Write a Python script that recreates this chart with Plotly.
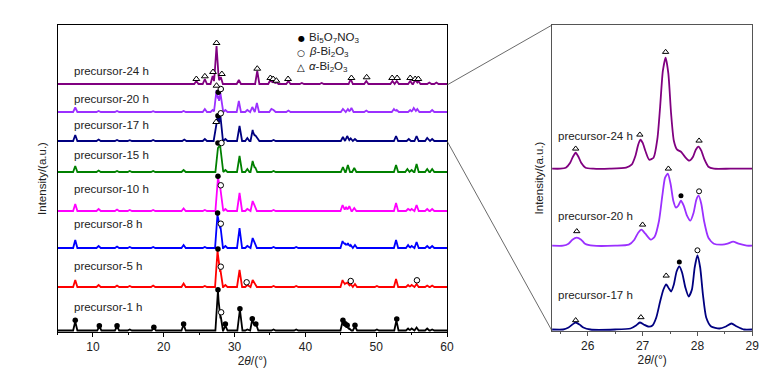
import plotly.graph_objects as go

# ---------------- main panel data ----------------
series_names = ["precursor-1 h", "precursor-5 h", "precursor-8 h", "precursor-10 h",
                "precursor-15 h", "precursor-17 h", "precursor-20 h", "precursor-24 h"]
series_colors = ["#000000", "#FF0000", "#0000FF", "#FF00FF",
                 "#008000", "#000080", "#9B30FF", "#800080"]
baselines = [1.5, 45, 84, 121, 160, 191, 220, 248]

peaks_1h = [(7.5, 9), (10.9, 4), (13.4, 4), (15.2, 1), (18.6, 3), (22.8, 6), (27.65, 40), (28.05, 14),
            (28.7, 5), (30.75, 21), (31.8, 1), (32.5, 11), (32.8, 7), (33.05, 6), (35.5, 1), (38.7, 1),
            (45.25, 9), (45.55, 5), (45.85, 4), (46.2, 2), (47.0, 4), (50.1, 1), (52.85, 10), (54.5, 2),
            (55.0, 2), (55.7, 3), (57.2, 2), (57.9, 1)]
peaks_5h = [(7.5, 7), (10.8, 2), (13.4, 1.5), (15.2, 1), (18.5, 1.5), (22.8, 3.5), (25.8, 1), (27.6, 37),
            (28.0, 17), (28.7, 2), (30.7, 17), (31.8, 2), (32.55, 7), (32.85, 4), (35.5, 1), (38.7, 1),
            (45.25, 7), (45.6, 4), (45.95, 5), (46.4, 3), (47.0, 3), (50.1, 1), (52.8, 8), (54.5, 2),
            (55.0, 2), (55.7, 3), (57.2, 1.5), (57.9, 1.5)]
peaks_8h = [(7.5, 8), (10.8, 2), (13.4, 1.5), (15.2, 1), (18.5, 1), (22.8, 3), (25.8, 1), (27.6, 35),
            (28.0, 22), (28.7, 2), (30.7, 20), (31.8, 2), (32.55, 10), (32.85, 5), (35.5, 1), (38.7, 1),
            (45.25, 7), (45.6, 5), (46.0, 5), (46.4, 3), (47.0, 3), (52.8, 8), (54.5, 3), (55.0, 2),
            (55.7, 6), (57.2, 2), (57.9, 2)]
peaks_10h = [(7.5, 7), (10.8, 2), (13.4, 1.5), (15.2, 1), (18.5, 1), (22.8, 2.5), (25.8, 1), (27.65, 33),
             (28.0, 22), (28.7, 2), (30.7, 18), (31.8, 2), (32.55, 10), (32.85, 5), (35.5, 1),
             (45.25, 6), (45.75, 4), (46.2, 5), (46.9, 3), (52.8, 8), (54.5, 2), (55.0, 2), (55.7, 6),
             (57.2, 2), (57.9, 2)]
peaks_15h = [(7.5, 6), (10.8, 1.5), (13.4, 1), (15.2, 1), (18.5, 1), (22.8, 2), (27.65, 24), (27.95, 27),
             (28.7, 2), (30.7, 16), (31.8, 3), (32.55, 11), (32.9, 5), (35.5, 1), (45.3, 5), (46.0, 7),
             (46.9, 4), (52.8, 7), (54.4, 3), (55.0, 2), (55.7, 8), (57.2, 3), (57.9, 3)]
peaks_17h = [(7.5, 6), (10.8, 1.5), (13.4, 1), (15.2, 0.8), (18.5, 1), (22.9, 1.5), (25.8, 2), (27.4, 18),
             (27.65, 26), (28.0, 25), (28.7, 2), (30.7, 15), (31.8, 3), (32.55, 11), (32.9, 6), (33.2, 3),
             (35.5, 1), (45.3, 4), (45.9, 5), (46.4, 2.5), (47.0, 2), (52.8, 5), (54.6, 2), (55.7, 5),
             (57.2, 3), (57.9, 2)]
peaks_20h = [(7.5, 4.5), (10.8, 1), (13.4, 1), (18.5, 0.8), (22.8, 1), (25.8, 3), (26.9, 2), (27.45, 22),
             (27.7, 16), (28.0, 19), (28.7, 2), (30.6, 11), (31.8, 2), (32.5, 5), (33.15, 9), (35.2, 3),
             (35.5, 2), (37.6, 1.5), (45.3, 3), (46.0, 3), (46.5, 4), (48.6, 1.5), (52.5, 3), (52.9, 2),
             (54.8, 2), (55.3, 4), (55.8, 3), (57.9, 2)]
peaks_24h = [(24.6, 3), (25.8, 5), (26.9, 8), (27.45, 38), (27.7, 6), (28.05, 7), (30.6, 4), (33.2, 13),
             (35.05, 4), (35.45, 3), (35.9, 2), (37.6, 3), (39.5, 1), (42.3, 1), (46.4, 5), (48.6, 3),
             (52.3, 3), (52.9, 3), (54.8, 3), (55.5, 4), (55.95, 3), (57.5, 1.5), (58.5, 1.5)]
series_peaks = [peaks_1h, peaks_5h, peaks_8h, peaks_10h, peaks_15h, peaks_17h, peaks_20h, peaks_24h]

label_y = [25, 65.7, 108.3, 143, 177.3, 206.7, 233.3, 261]

# phase markers (main panel)
bi5_x = [7.5, 10.9, 13.4, 18.6, 22.8, 27.65, 28.7, 30.75, 32.5, 33.0, 45.3, 45.6, 45.9, 47.0, 52.9,
         27.65, 27.6, 27.65, 27.65, 27.65, 27.7]
bi5_y = [11.7, 6.3, 6.3, 4.7, 8, 42.3, 8, 23.3, 13.3, 8, 11.7, 8.3, 6.7, 6.7, 13,
         83, 119, 155.7, 189, 216.3, 239.7]
beta_x = [28.1, 28.05, 31.7, 46.4, 55.75, 28.05, 28.05, 28.15, 28.05, 28.05]
beta_y = [19.7, 65.3, 49.7, 51, 51.7, 108.3, 146.7, 189, 218.7, 243]
alpha_x = [27.4, 27.45, 24.6, 25.8, 26.95, 27.45, 28.2, 33.2, 35.05, 35.45, 35.9, 37.55, 46.5, 48.65,
           52.25, 52.95, 54.8, 55.5, 55.95]
alpha_y = [210, 246.3, 253, 255.7, 260, 289, 258, 263.3, 254, 253, 251.3, 253, 254, 254.7,
           254, 254, 254, 253, 253]

legend_texts = ["Bi<sub>5</sub>O<sub>7</sub>NO<sub>3</sub>",
                "<i>β</i>-Bi<sub>2</sub>O<sub>3</sub>",
                "<i>α</i>-Bi<sub>2</sub>O<sub>3</sub>"]
legend_glyphs = ["●", "○", "△"]

# ---------------- inset data ----------------
inset_names = ["precursor-17 h", "precursor-20 h", "precursor-24 h"]
inset_colors = ["#000080", "#9B30FF", "#800080"]
inset_base = [1.5, 85.3, 162.3]
inset_label_y = [36, 115, 195]

in17_x = [25.35, 25.55, 25.65, 25.72, 25.78, 25.85, 25.92, 26.05, 26.5, 26.78, 26.88, 26.95, 27.02, 27.1,
          27.18, 27.25, 27.32, 27.38, 27.43, 27.48, 27.52, 27.57, 27.62, 27.67, 27.72, 27.78, 27.84, 27.9,
          27.95, 28.0, 28.05, 28.1, 28.16, 28.25, 28.4, 28.52, 28.62, 28.72, 28.85, 29.0]
in17_y = [0, 0, 2, 5, 7, 5, 2, 0, 0, 1, 4, 7, 5, 3, 4, 12, 28, 40, 45, 41, 38, 45, 58, 63, 57, 42, 33, 40,
          62, 74, 62, 35, 12, 3, 1, 3, 6, 3, 0, 0]
in20_x = [25.35, 25.55, 25.65, 25.72, 25.8, 25.88, 25.95, 26.1, 26.5, 26.75, 26.85, 26.92, 26.98, 27.05,
          27.15, 27.22, 27.3, 27.36, 27.41, 27.46, 27.51, 27.56, 27.61, 27.65, 27.7, 27.75, 27.81, 27.87,
          27.93, 27.98, 28.02, 28.07, 28.12, 28.2, 28.3, 28.45, 28.55, 28.65, 28.75, 28.9, 29.0]
in20_y = [0, 0, 2, 6, 8, 6, 2, 0, 0, 1, 6, 13, 16, 12, 6, 9, 25, 50, 68, 72, 62, 45, 38, 40, 45, 40, 30,
          25, 33, 46, 50, 42, 25, 8, 2, 1, 2, 4, 2, 0, 0]
in24_x = [25.35, 25.5, 25.6, 25.68, 25.73, 25.78, 25.83, 25.88, 25.96, 26.1, 26.4, 26.7, 26.8, 26.87, 26.92,
          26.96, 27.0, 27.05, 27.12, 27.2, 27.27, 27.32, 27.37, 27.42, 27.47, 27.52, 27.57, 27.63, 27.7,
          27.77, 27.85, 27.92, 27.97, 28.02, 28.07, 28.13, 28.2, 28.3, 28.6, 29.0]
in24_y = [0, 0, 1, 6, 12, 16, 12, 6, 1, 0, 0, 1, 4, 13, 24, 29, 26, 18, 9, 11, 30, 62, 98, 111, 95, 55, 28,
          19, 17, 12, 8, 12, 19, 22, 18, 9, 2, 0, 0, 0]
inset_x = [in17_x, in20_x, in24_x]
inset_y = [in17_y, in20_y, in24_y]

in_alpha_x = [25.78, 26.97, 27.43, 25.8, 27.0, 27.47, 25.78, 26.95, 27.42, 28.03]
in_alpha_y = [10.7, 13.7, 55.3, 99.7, 106.3, 162.3, 182.3, 196.3, 279, 190.3]
in_bi5_x = [27.67, 27.7]
in_bi5_y = [69, 135.3]
in_beta_x = [28.0, 28.03]
in_beta_y = [80.7, 139.7]

X_RANGE = [5, 60]
INSET_RANGE = [25.35, 29]
W = 782
H = 372
FONT = "Liberation Sans, Arial, sans-serif"


def envelope(peaks, lo, hi):
    def width(h):
        return 0.36 if h >= 15 else 0.3
    pts = {lo, hi}
    for p, h in peaks:
        w = width(h)
        pts.update([p - w, p, p + w])
    xs = sorted(x for x in pts if lo <= x <= hi)
    ys = []
    for x in xs:
        v = 0.0
        for p, h in peaks:
            w = width(h)
            d = abs(x - p)
            if d < w:
                v = max(v, h * (1 - d / w))
        ys.append(v)
    return xs, ys


fig = go.Figure()

for name, col, base, pk in zip(series_names, series_colors, baselines, series_peaks):
    xs, ys = envelope(pk, X_RANGE[0], X_RANGE[1])
    fig.add_trace(go.Scatter(x=xs, y=[base + v for v in ys], mode="lines", name=name,
                             line=dict(color=col, width=1.8), showlegend=False,
                             hoverinfo="skip", xaxis="x", yaxis="y"))

fig.add_trace(go.Scatter(x=bi5_x, y=bi5_y, mode="markers", showlegend=False,
                         marker=dict(symbol="circle", size=5.5, color="black"), xaxis="x", yaxis="y"))
fig.add_trace(go.Scatter(x=beta_x, y=beta_y, mode="markers", showlegend=False,
                         marker=dict(symbol="circle", size=5.5, color="white", line=dict(color="black", width=1)),
                         xaxis="x", yaxis="y"))
fig.add_trace(go.Scatter(x=alpha_x, y=alpha_y, mode="markers", showlegend=False,
                         marker=dict(symbol="triangle-up", size=6, color="white", line=dict(color="black", width=1)),
                         xaxis="x", yaxis="y"))

for name, col, base, xs, ys in zip(inset_names, inset_colors, inset_base, inset_x, inset_y):
    fig.add_trace(go.Scatter(x=xs, y=[base + v for v in ys], mode="lines", name=name,
                             line=dict(color=col, width=1.8, shape="spline", smoothing=0.6),
                             showlegend=False, hoverinfo="skip", xaxis="x2", yaxis="y2"))

fig.add_trace(go.Scatter(x=in_alpha_x, y=in_alpha_y, mode="markers", showlegend=False,
                         marker=dict(symbol="triangle-up", size=5.5, color="white", line=dict(color="black", width=1)),
                         xaxis="x2", yaxis="y2"))
fig.add_trace(go.Scatter(x=in_bi5_x, y=in_bi5_y, mode="markers", showlegend=False,
                         marker=dict(symbol="circle", size=5, color="black"), xaxis="x2", yaxis="y2"))
fig.add_trace(go.Scatter(x=in_beta_x, y=in_beta_y, mode="markers", showlegend=False,
                         marker=dict(symbol="circle", size=5, color="white", line=dict(color="black", width=1)),
                         xaxis="x2", yaxis="y2"))

annotations = []
for name, ly in zip(series_names, label_y):
    annotations.append(dict(x=7.05, y=ly, xref="x", yref="y", text=name, showarrow=False,
                            xanchor="left", yanchor="middle", font=dict(size=11.5, color="#222")))
for name, ly in zip(inset_names, inset_label_y):
    annotations.append(dict(x=25.42, y=ly, xref="x2", yref="y2", text=name, showarrow=False,
                            xanchor="left", yanchor="middle", font=dict(size=11.5, color="#222")))

# legend (text glyphs + labels)
legend_rows_px = [30.5, 44.5, 59.5]
glyph_sizes = [8, 9, 10]
for g, gs, t, ry in zip(legend_glyphs, glyph_sizes, legend_texts, legend_rows_px):
    annotations.append(dict(x=296 / W, y=1 - ry / H, xref="paper", yref="paper", text=g, showarrow=False,
                            xanchor="center", yanchor="middle",
                            font=dict(size=gs, color="black", family="DejaVu Sans")))
    annotations.append(dict(x=302 / W, y=1 - (ry - 0.5) / H, xref="paper", yref="paper", text=t,
                            showarrow=False, xanchor="left", yanchor="middle",
                            font=dict(size=11.5, color="#222")))

# zoom connector lines
shapes = [
    dict(type="line", xref="paper", yref="paper", x0=443 / W, y0=1 - 77 / H, x1=549 / W, y1=1 - 17 / H,
         line=dict(color="#444", width=0.8)),
    dict(type="line", xref="paper", yref="paper", x0=443 / W, y0=1 - 133 / H, x1=549 / W, y1=1 - 323 / H,
         line=dict(color="#444", width=0.8)),
]

axis_common = dict(showline=True, mirror=True, linewidth=1, showgrid=False, zeroline=False,
                   tickfont=dict(size=12, color="#222"))

fig.update_layout(
    width=W, height=H, margin=dict(l=0, r=0, t=0, b=0),
    paper_bgcolor="white", plot_bgcolor="white",
    font=dict(family=FONT, color="#222"),
    showlegend=False,
    xaxis=dict(domain=[50 / W, 443 / W], range=X_RANGE, tickvals=[10, 20, 30, 40, 50, 60],
               ticks="outside", ticklen=4, tickcolor="black", linecolor="black",
               minor=dict(tickvals=[5, 15, 25, 35, 45, 55], ticks="outside", ticklen=2, tickcolor="black"),
               title=dict(text="2<i>θ</i>/(°)", font=dict(size=12), standoff=1), **axis_common),
    yaxis=dict(domain=[1 - 324 / H, 1 - 17 / H], range=[0, 307], showticklabels=False, ticks="",
               linecolor="black",
               title=dict(text="Intensity/(a.u.)", font=dict(size=11.5), standoff=7), **axis_common),
    xaxis2=dict(domain=[549 / W, 751 / W], range=INSET_RANGE, tickvals=[26, 27, 28, 29], anchor="y2",
                ticks="outside", ticklen=4, tickcolor="#555", linecolor="#555",
                minor=dict(tickvals=[25.5, 26.5, 27.5, 28.5], ticks="outside", ticklen=2, tickcolor="#555"),
                title=dict(text="2<i>θ</i>/(°)", font=dict(size=12), standoff=1), **axis_common),
    yaxis2=dict(domain=[1 - 323 / H, 1 - 17 / H], range=[0, 306], showticklabels=False, ticks="",
                anchor="x2", linecolor="#555",
                title=dict(text="Intensity/(a.u.)", font=dict(size=11.5), standoff=5), **axis_common),
    annotations=annotations,
    shapes=shapes,
)

fig.write_html("out.html")
